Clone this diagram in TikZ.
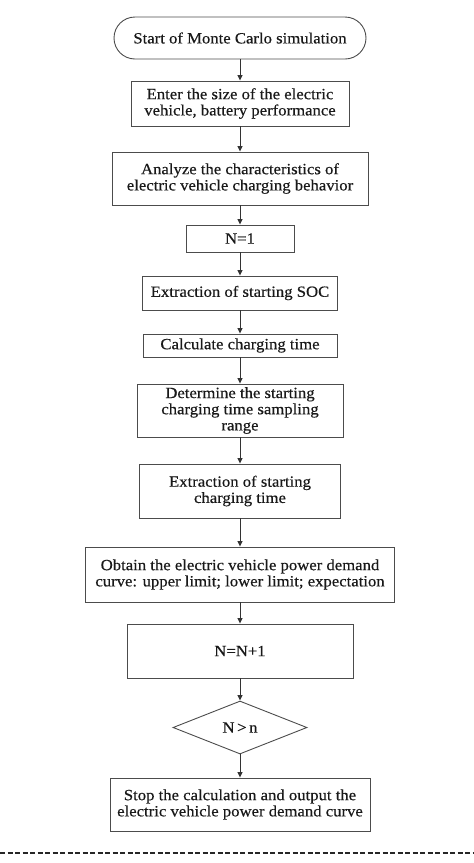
\documentclass[tikz,border=0pt]{standalone}
\usepackage{fontspec}
\setmainfont{Liberation Serif}[FakeStretch=1.07,FakeBold=0.4]
\usetikzlibrary{shapes.geometric,arrows.meta}
\begin{document}
\begin{tikzpicture}[x=1pt,y=1pt,
  every node/.style={font=\fontsize{15.6}{16.2}\selectfont, text=black!90, align=center, inner sep=0pt},
  procbox/.style={draw=black!70, line width=0.9pt, rectangle},
  termbox/.style={draw=black!70, line width=0.9pt, rectangle, rounded corners=21pt},
  decbox/.style={draw=black!70, line width=0.9pt, diamond, aspect=2.5},
  flow/.style={draw=black!80, line width=0.9pt, -{Triangle[length=5.5pt,width=5pt]}}
]
\useasboundingbox (0,0) rectangle (474,-863);
\node[termbox, minimum width=252pt, minimum height=42pt] (start) at (240,-38) {Start of Monte Carlo simulation};
\node[procbox, minimum width=218pt, minimum height=45pt] (b1) at (240,-103.5) {Enter the size of the electric\\vehicle, battery performance};
\node[procbox, minimum width=256pt, minimum height=53pt] (b2) at (240,-178.5) {Analyze the characteristics of\\electric vehicle charging behavior};
\node[procbox, minimum width=108pt, minimum height=27pt] (n1) at (240,-238.5) {N=1};
\node[procbox, minimum width=195pt, minimum height=34pt] (soc) at (240,-293) {Extraction of starting SOC};
\node[procbox, minimum width=194pt, minimum height=23pt] (calc) at (240,-345.5) {Calculate charging time};
\node[procbox, minimum width=206pt, minimum height=53pt] (det) at (240,-410.5) {Determine the starting\\charging time sampling\\range};
\node[procbox, minimum width=201pt, minimum height=54pt] (ext) at (240,-491) {Extraction of starting\\charging time};
\node[procbox, minimum width=309pt, minimum height=55pt] (obt) at (240,-574.5) {Obtain the electric vehicle power demand\\curve: upper limit; lower limit; expectation};
\node[procbox, minimum width=226pt, minimum height=54pt] (nn) at (240,-651) {N=N+1};
\node[decbox, minimum width=134pt, minimum height=53pt] (dia) at (240,-727.5) {N\,>\,n};
\node[procbox, minimum width=260pt, minimum height=53pt] (stop) at (240,-804.5) {Stop the calculation and output the\\electric vehicle power demand curve};
\draw[flow] (start) -- (b1);
\draw[flow] (b1) -- (b2);
\draw[flow] (b2) -- (n1);
\draw[flow] (n1) -- (soc);
\draw[flow] (soc) -- (calc);
\draw[flow] (calc) -- (det);
\draw[flow] (det) -- (ext);
\draw[flow] (ext) -- (obt);
\draw[flow] (obt) -- (nn);
\draw[flow] (nn) -- (dia);
\draw[flow] (dia) -- (stop);
\coordinate (dl) at (0,-853);
\coordinate (dr) at (474,-853);
\draw[black!85, line width=1.4pt, dash pattern=on 5pt off 2.5pt] (dl) -- (dr);
\end{tikzpicture}
\end{document}
